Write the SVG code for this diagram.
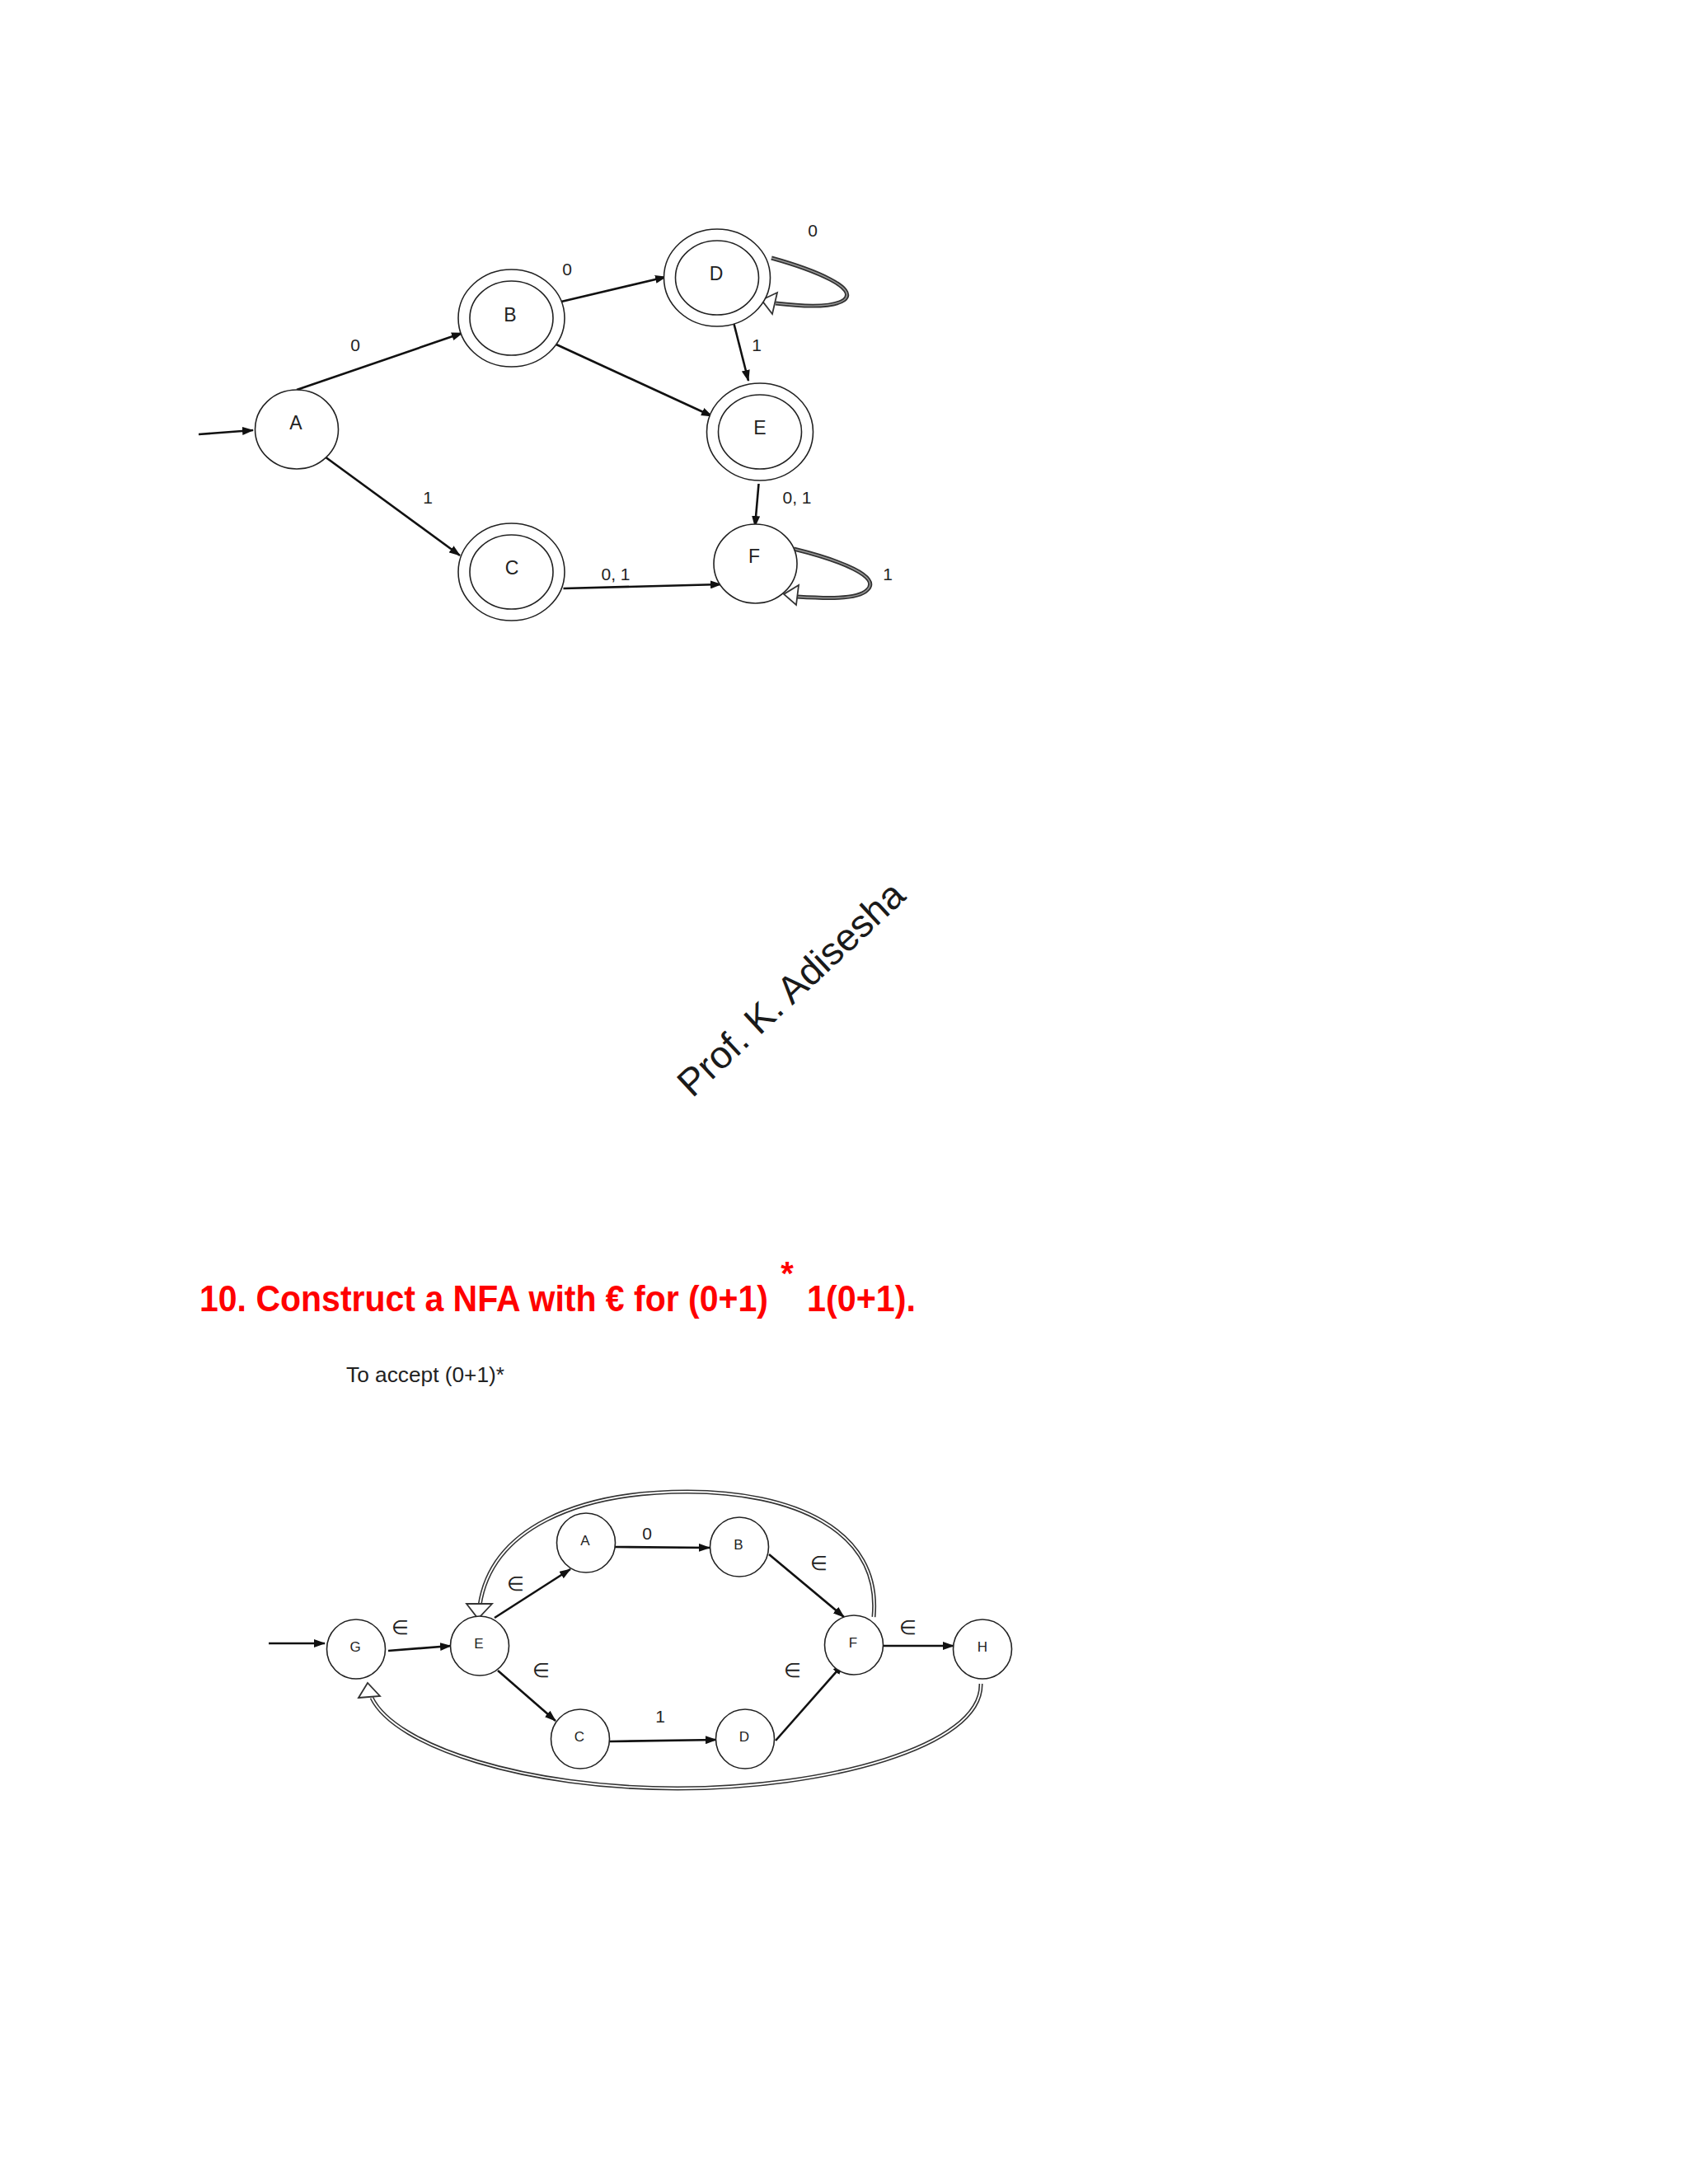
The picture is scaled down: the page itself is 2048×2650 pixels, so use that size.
<svg xmlns="http://www.w3.org/2000/svg" width="2048" height="2650" viewBox="0 0 2048 2650">
<defs>
<marker id="ah" markerUnits="userSpaceOnUse" markerWidth="14" markerHeight="10" refX="13" refY="5" orient="auto">
<path d="M0,0 L14,5 L0,10 Z" fill="#111"/>
</marker>
<style>
.n{fill:#fff;stroke:#222;stroke-width:1.6}
.e{fill:none;stroke:#111;stroke-width:2.6;marker-end:url(#ah)}
.dbl{fill:none;stroke:#333;stroke-width:5}
.dbli{fill:none;stroke:#fff;stroke-width:1.8}
.dbl2{fill:none;stroke:#999;stroke-width:1.4}
.hol{fill:#fff;stroke:#333;stroke-width:1.8}
.t{font-family:"Liberation Sans",Arial,sans-serif;fill:#222;text-anchor:middle}
.tl{font-size:23px}
.el{font-size:21px}
.bl{font-size:17px}
.ep{font-size:24px}
</style>
</defs>
<rect width="2048" height="2650" fill="#fff"/>

<!-- TOP DIAGRAM -->
<g id="connectors-top">
<path class="e" d="M241,527 L307,522"/>
<path class="e" d="M360,473 L561,404"/>
<path class="e" d="M681,366 L808,336"/>
<path class="e" d="M675,418 L864,505"/>
<path class="e" d="M890,391 L908,462"/>
<path class="e" d="M394,554 L558,674"/>
<path class="e" d="M920.5,587 L916,639"/>
<path class="e" d="M683.5,714 L875,709"/>
<path class="dbl" d="M936,313 C 990,328 1042,350 1024,364 C 1010,374 975,372 941,368"/>
<path class="dbl2" d="M936,313 C 990,328 1042,350 1024,364 C 1010,374 975,372 941,368"/>
<polygon class="hol" points="943,355 937,381 924,364"/>
<path class="dbl" d="M963,666 C 1020,680 1070,700 1052,716 C 1040,728 1000,726 967,724"/>
<path class="dbl2" d="M963,666 C 1020,680 1070,700 1052,716 C 1040,728 1000,726 967,724"/>
<polygon class="hol" points="969,710 966,734 951,721"/>
</g>
<g id="top-A"><ellipse class="n" cx="360" cy="521" rx="50.5" ry="48"/><text class="t tl" x="359" y="521">A</text></g>
<g id="top-B"><ellipse class="n" cx="620.5" cy="386" rx="64.5" ry="59"/><ellipse class="n" cx="620.5" cy="386" rx="50.5" ry="45"/><text class="t tl" x="619" y="390">B</text></g>
<g id="top-D"><ellipse class="n" cx="870" cy="337" rx="64.5" ry="59"/><ellipse class="n" cx="870" cy="337" rx="50.5" ry="45"/><text class="t tl" x="869" y="340">D</text></g>
<g id="top-E"><ellipse class="n" cx="922" cy="524" rx="64.5" ry="59"/><ellipse class="n" cx="922" cy="524" rx="50.5" ry="45"/><text class="t tl" x="922" y="527">E</text></g>
<g id="top-C"><ellipse class="n" cx="620.5" cy="694" rx="64.5" ry="59"/><ellipse class="n" cx="620.5" cy="694" rx="50.5" ry="45"/><text class="t tl" x="621" y="697">C</text></g>
<g id="top-F"><ellipse class="n" cx="916.5" cy="684" rx="50.5" ry="48"/><text class="t tl" x="915" y="683">F</text></g>
<g id="top-labels">
<text class="t el" x="431" y="426">0</text>
<text class="t el" x="688" y="334">0</text>
<text class="t el" x="986" y="287">0</text>
<text class="t el" x="918" y="426">1</text>
<text class="t el" x="519" y="611">1</text>
<text class="t el" x="967" y="611">0, 1</text>
<text class="t el" x="747" y="704">0, 1</text>
<text class="t el" x="1077" y="704">1</text>
</g>

<!-- WATERMARK -->
<text x="0" y="0" transform="translate(840,1333) rotate(-43)" font-family="Liberation Sans,Arial,sans-serif" font-size="46.5" fill="#1a1a1a">Prof. K. Adisesha</text>

<!-- TITLE -->
<g id="title" font-family="Liberation Sans,Arial,sans-serif" font-weight="bold" fill="#ff0000">
<text x="242" y="1591" font-size="45" textLength="690" lengthAdjust="spacingAndGlyphs">10. Construct a NFA with € for (0+1)</text>
<text x="955" y="1559" font-size="40" text-anchor="middle">*</text>
<text x="979" y="1591" font-size="45" textLength="132" lengthAdjust="spacingAndGlyphs">1(0+1).</text>
</g>
<text x="420" y="1677" font-family="Liberation Sans,Arial,sans-serif" font-size="25" fill="#222" textLength="192" lengthAdjust="spacingAndGlyphs">To accept (0+1)*</text>

<!-- BOTTOM DIAGRAM -->
<g id="connectors-bottom">
<path class="e" d="M326,1994 L394,1994"/>
<path class="e" d="M471,2003 L547,1997"/>
<path class="e" d="M600,1963 L692,1904"/>
<path class="e" d="M746,1877 L861,1878"/>
<path class="e" d="M933,1886 L1024,1962"/>
<path class="e" d="M604,2027 L674,2088"/>
<path class="e" d="M740,2113 L869,2111"/>
<path class="e" d="M941,2112 L1023,2019"/>
<path class="e" d="M1071,1997 L1157,1997"/>
<path class="dbl" d="M1060,1962 C 1070,1855 960,1810 834,1810 C 700,1810 596,1855 582,1948"/>
<path class="dbli" d="M1060,1962 C 1070,1855 960,1810 834,1810 C 700,1810 596,1855 582,1948"/>
<polygon class="hol" points="566,1946 597,1946 580,1964"/>
<path class="dbl" d="M1190,2043 C 1192,2120 1000,2170 822,2170 C 640,2170 480,2120 451,2060"/>
<path class="dbli" d="M1190,2043 C 1192,2120 1000,2170 822,2170 C 640,2170 480,2120 451,2060"/>
<polygon class="hol" points="435,2060 461,2058 446,2042"/>
</g>
<g id="bot-G"><ellipse class="n" cx="432" cy="2001" rx="35.5" ry="36"/><text class="t bl" x="431" y="2004">G</text></g>
<g id="bot-E"><ellipse class="n" cx="582" cy="1997" rx="35.5" ry="36"/><text class="t bl" x="581" y="2000">E</text></g>
<g id="bot-A"><ellipse class="n" cx="711" cy="1872" rx="35.5" ry="36"/><text class="t bl" x="710" y="1875">A</text></g>
<g id="bot-B"><ellipse class="n" cx="897" cy="1877" rx="35.5" ry="36"/><text class="t bl" x="896" y="1880">B</text></g>
<g id="bot-F"><ellipse class="n" cx="1036" cy="1996" rx="35.5" ry="36"/><text class="t bl" x="1035" y="1999">F</text></g>
<g id="bot-H"><ellipse class="n" cx="1192" cy="2001" rx="35.5" ry="36"/><text class="t bl" x="1192" y="2004">H</text></g>
<g id="bot-C"><ellipse class="n" cx="704" cy="2110" rx="35.5" ry="36"/><text class="t bl" x="703" y="2113">C</text></g>
<g id="bot-D"><ellipse class="n" cx="904" cy="2110" rx="35.5" ry="36"/><text class="t bl" x="903" y="2113">D</text></g>
<g id="bottom-labels">
<text class="t ep" x="485" y="1983">∈</text>
<text class="t ep" x="625" y="1930">∈</text>
<text class="t ep" x="656" y="2035">∈</text>
<text class="t ep" x="993" y="1905">∈</text>
<text class="t ep" x="961" y="2035">∈</text>
<text class="t ep" x="1101" y="1983">∈</text>
<text class="t el" x="785" y="1868">0</text>
<text class="t el" x="801" y="2090">1</text>
</g>
</svg>
